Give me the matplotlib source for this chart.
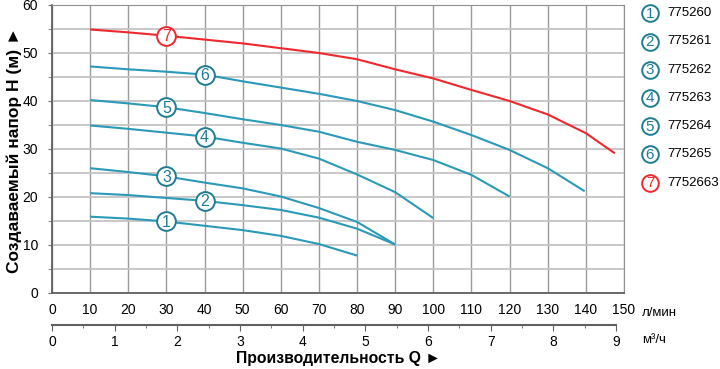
import matplotlib
matplotlib.use("Agg")
import matplotlib.pyplot as plt

plt.rcParams['font.family'] = ['Liberation Sans', 'DejaVu Sans']

# расход, л/мин
q1 = [10, 20, 30, 40, 50, 60, 70, 80]
q2 = [10, 20, 30, 40, 50, 60, 70, 80, 90]
q4 = [10, 20, 30, 40, 50, 60, 70, 80, 90, 100]
q5 = [10, 20, 30, 40, 50, 60, 70, 80, 90, 100, 110, 120]
q6 = [10, 20, 30, 40, 50, 60, 70, 80, 90, 100, 110, 120, 130, 139.7]
q7 = [10, 20, 30, 40, 50, 60, 70, 80, 90, 100, 110, 120, 130, 140, 147.6]

# напор, м
h1 = [15.9, 15.5, 14.9, 14.0, 13.1, 11.9, 10.2, 7.8]
h2 = [20.8, 20.4, 19.8, 19.2, 18.3, 17.3, 15.7, 13.4, 10.1]
h3 = [26.0, 25.2, 24.3, 23.0, 21.8, 20.1, 17.7, 14.8, 10.1]
h4 = [34.9, 34.2, 33.4, 32.6, 31.3, 30.1, 28.0, 24.7, 21.0, 15.6]
h5 = [40.2, 39.5, 38.7, 37.5, 36.2, 35.0, 33.6, 31.5, 29.8, 27.7, 24.6, 20.1]
h6 = [47.2, 46.6, 46.1, 45.5, 44.1, 42.8, 41.5, 40.0, 38.1, 35.7, 32.9, 29.8, 26.0, 21.2]
h7 = [54.9, 54.3, 53.6, 52.8, 52.0, 51.0, 50.0, 48.7, 46.6, 44.7, 42.3, 40.0, 37.2, 33.3, 29.1]

curves = [(q1, h1), (q2, h2), (q2, h3), (q4, h4), (q5, h5), (q6, h6), (q7, h7)]
label_q = [30, 40, 30, 40, 30, 40, 30]
codes = ['775260', '775261', '775262', '775263', '775264', '775265', '7752663']

teal = '#2a9ab8'
teal_dark = '#1f7c95'
red = '#f0282d'

fig = plt.figure(figsize=(7.2, 3.69), dpi=100)
W, H = 720, 369
ax = fig.add_axes([52 / W, 76 / H, 572 / W, 288 / H])

for i, (q, h) in enumerate(curves):
    c = red if i == 6 else teal
    ec = red if i == 6 else teal_dark
    ax.plot(q, h, color=c, lw=1.5, zorder=3, solid_capstyle='butt', solid_joinstyle='round')
    # кружок с номером на кривой
    k = q.index(label_q[i])
    ax.plot(q[k], h[k], 'o', ms=13.5, mfc='white', mec=ec, mew=1.4, zorder=4)
    ax.text(q[k], h[k] - 0.2, str(i + 1), color=ec, fontsize=11.5, ha='center', va='center', zorder=5)

ax.set_xlim(0, 150)
ax.set_ylim(0, 60)
ax.set_xticks(range(0, 151, 10))
ax.set_yticks(range(0, 61, 10))
ax.set_yticks(range(5, 60, 10), minor=True)
ax.tick_params(axis='x', length=0, pad=7, labelsize=10)
ax.tick_params(axis='y', which='both', direction='out', length=3, color='#707070', pad=7, labelsize=10)
ax.xaxis.grid(True, color='#9a9a9a', lw=1.0)
ax.yaxis.grid(True, which='both', color='#c4c4c4', lw=1.3)
ax.set_axisbelow(True)
for s in ['top', 'right']:
    ax.spines[s].set_color('#909090')
for s in ['left', 'bottom']:
    ax.spines[s].set_color('#606060')
    ax.spines[s].set_linewidth(1.3)

# вторая шкала м³/ч
ax2 = fig.add_axes([52 / W, 44 / H, 564 / W, 0.0001])
ax2.set_xlim(0, 9)
ax2.set_xticks(range(0, 10))
ax2.set_xticks([x + 0.5 for x in range(0, 9)], minor=True)
ax2.set_yticks([])
for s in ['top', 'right', 'left']:
    ax2.spines[s].set_visible(False)
ax2.spines['bottom'].set_color('#606060')
ax2.spines['bottom'].set_linewidth(1.5)
ax2.tick_params(axis='x', which='major', direction='out', length=4, color='#606060', pad=3, labelsize=10)
ax2.tick_params(axis='x', which='minor', direction='out', length=2.5, color='#606060')

fig.text(338 / W, 1 - 359 / H, 'Производительность Q ►', fontsize=11.3, fontweight='bold', ha='center', va='center')
fig.text(14 / W, 1 - 150 / H, 'Создаваемый напор H (м) ►', fontsize=12.5, fontweight='bold', rotation=90, ha='center', va='center')
fig.text(642 / W, 1 - 313 / H, 'л/мин', fontsize=9.5, va='center')
fig.text(642 / W, 1 - 340 / H, 'м³/ч', fontsize=9.5, va='center')

# легенда справа
axl = fig.add_axes([0, 0, 1, 1], facecolor='none')
axl.set_xlim(0, W)
axl.set_ylim(H, 0)
axl.axis('off')
for i, code in enumerate(codes):
    y = 13.3 + i * 28.2
    ec = red if i == 6 else teal_dark
    axl.plot(650, y, 'o', ms=12, mfc='white', mec=ec, mew=1.4)
    axl.text(650, y + 0.5, str(i + 1), color=ec, fontsize=11, ha='center', va='center')
    axl.text(667, y, code, fontsize=9.5, va='center')

fig.savefig('out.png', dpi=100)
